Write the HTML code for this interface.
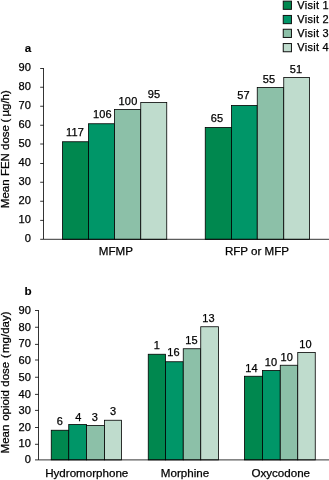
<!DOCTYPE html>
<html lang="en"><head><meta charset="utf-8"><title>Mean dose by visit</title>
<style>html,body{margin:0;padding:0;background:#fff;}body{width:329px;height:480px;overflow:hidden;}svg{display:block;}text{font-family:"Liberation Sans",Arial,Helvetica,sans-serif;font-size:11.25px;fill:#000;stroke:#000;stroke-width:0.25px;}.yl{font-size:11.5px;}.cat{font-size:11.6px;}.tk{font-size:11.1px;}.lg{font-size:11px;letter-spacing:0.27px;}.lbox{stroke:#111;stroke-width:1;}.bl{font-size:11px;letter-spacing:0.15px;}.b{font-weight:bold;font-size:11.7px;stroke-width:0.1px;}.bar{stroke:#000;stroke-width:0.8;}.ax{stroke:#000;stroke-width:0.8;fill:none;}</style></head><body>
<svg width="329" height="480" viewBox="0 0 329 480">
<rect width="329" height="480" fill="#fff"/>
<rect class="lbox" x="283.25" y="1.15" width="8.2" height="8.2" fill="#00884f"/>
<text class="lg" x="297.3" y="8.55">Visit 1</text>
<rect class="lbox" x="283.25" y="15.45" width="8.2" height="8.2" fill="#009668"/>
<text class="lg" x="297.3" y="22.65">Visit 2</text>
<rect class="lbox" x="283.25" y="29.25" width="8.2" height="8.2" fill="#8cc0a8"/>
<text class="lg" x="297.3" y="36.70">Visit 3</text>
<rect class="lbox" x="283.25" y="43.55" width="8.2" height="8.2" fill="#bfdccd"/>
<text class="lg" x="297.3" y="50.75">Visit 4</text>
<rect class="bar" x="62.50" y="141.75" width="26.00" height="97.55" fill="#00884f"/>
<rect class="bar" x="88.50" y="123.75" width="26.00" height="115.55" fill="#009668"/>
<rect class="bar" x="114.50" y="109.50" width="26.25" height="129.80" fill="#8cc0a8"/>
<rect class="bar" x="140.75" y="102.50" width="26.00" height="136.80" fill="#bfdccd"/>
<rect class="bar" x="205.25" y="127.50" width="26.25" height="111.80" fill="#00884f"/>
<rect class="bar" x="231.50" y="105.50" width="25.75" height="133.80" fill="#009668"/>
<rect class="bar" x="257.25" y="87.50" width="26.50" height="151.80" fill="#8cc0a8"/>
<rect class="bar" x="283.75" y="77.50" width="25.75" height="161.80" fill="#bfdccd"/>
<path class="ax" d="M43.50 68.10V239.30H329"/>
<path class="ax" d="M40.20 239.30H43.50"/>
<text class="tk" x="30.90" y="242.30" text-anchor="end">0</text>
<path class="ax" d="M40.20 220.40H43.50"/>
<text class="tk" x="30.90" y="223.30" text-anchor="end">10</text>
<path class="ax" d="M40.20 201.25H43.50"/>
<text class="tk" x="30.90" y="204.10" text-anchor="end">20</text>
<path class="ax" d="M40.20 182.25H43.50"/>
<text class="tk" x="30.90" y="185.15" text-anchor="end">30</text>
<path class="ax" d="M40.20 163.50H43.50"/>
<text class="tk" x="30.90" y="166.20" text-anchor="end">40</text>
<path class="ax" d="M40.20 144.00H43.50"/>
<text class="tk" x="30.90" y="147.10" text-anchor="end">50</text>
<path class="ax" d="M40.20 125.25H43.50"/>
<text class="tk" x="30.90" y="127.96" text-anchor="end">60</text>
<path class="ax" d="M40.20 106.25H43.50"/>
<text class="tk" x="30.90" y="109.00" text-anchor="end">70</text>
<path class="ax" d="M40.20 87.25H43.50"/>
<text class="tk" x="30.90" y="90.00" text-anchor="end">80</text>
<path class="ax" d="M40.20 68.50H43.50"/>
<text class="tk" x="30.90" y="70.96" text-anchor="end">90</text>
<text class="bl" x="75.05" y="135.90" text-anchor="middle">117</text>
<text class="bl" x="102.40" y="118.00" text-anchor="middle">106</text>
<text class="bl" x="128.00" y="104.50" text-anchor="middle">100</text>
<text class="bl" x="153.90" y="97.50" text-anchor="middle">95</text>
<text class="bl" x="217.10" y="121.75" text-anchor="middle">65</text>
<text class="bl" x="243.50" y="98.75" text-anchor="middle">57</text>
<text class="bl" x="269.10" y="82.50" text-anchor="middle">55</text>
<text class="bl" x="296.00" y="72.50" text-anchor="middle">51</text>
<text class="cat" x="115.90" y="254.90" text-anchor="middle">MFMP</text>
<text class="cat" x="257.00" y="254.90" text-anchor="middle">RFP or MFP</text>
<text class="b" x="24.80" y="51.75">a</text>
<text class="yl" text-anchor="middle" transform="translate(9.00 193.75) rotate(-90)">Mean</text>
<text class="yl" text-anchor="middle" transform="translate(9.00 164.60) rotate(-90)">FEN</text>
<text class="yl" text-anchor="middle" transform="translate(9.00 137.50) rotate(-90)">dose</text>
<text class="yl" text-anchor="middle" transform="translate(9.00 120.60) rotate(-90)">(</text>
<text class="yl" text-anchor="middle" transform="translate(9.00 103.40) rotate(-90)">µg/h)</text>
<rect class="bar" x="51.25" y="430.25" width="17.50" height="29.65" fill="#00884f"/>
<rect class="bar" x="68.75" y="424.50" width="17.75" height="35.40" fill="#009668"/>
<rect class="bar" x="86.50" y="425.50" width="18.00" height="34.40" fill="#8cc0a8"/>
<rect class="bar" x="104.50" y="420.25" width="17.00" height="39.65" fill="#bfdccd"/>
<rect class="bar" x="148.25" y="354.25" width="17.25" height="105.65" fill="#00884f"/>
<rect class="bar" x="165.50" y="361.75" width="17.75" height="98.15" fill="#009668"/>
<rect class="bar" x="183.25" y="348.75" width="17.50" height="111.15" fill="#8cc0a8"/>
<rect class="bar" x="200.75" y="326.75" width="17.75" height="133.15" fill="#bfdccd"/>
<rect class="bar" x="244.50" y="376.25" width="18.00" height="83.65" fill="#00884f"/>
<rect class="bar" x="262.50" y="370.50" width="17.75" height="89.40" fill="#009668"/>
<rect class="bar" x="280.25" y="365.25" width="17.50" height="94.65" fill="#8cc0a8"/>
<rect class="bar" x="297.75" y="352.50" width="17.50" height="107.40" fill="#bfdccd"/>
<path class="ax" d="M38.50 310.10V459.90H329"/>
<path class="ax" d="M35.00 459.90H38.50"/>
<text class="tk" x="30.90" y="462.95" text-anchor="end">0</text>
<path class="ax" d="M35.00 444.30H38.50"/>
<text class="tk" x="30.90" y="447.00" text-anchor="end">10</text>
<path class="ax" d="M35.00 427.50H38.50"/>
<text class="tk" x="30.90" y="430.50" text-anchor="end">20</text>
<path class="ax" d="M35.00 410.40H38.50"/>
<text class="tk" x="30.90" y="413.60" text-anchor="end">30</text>
<path class="ax" d="M35.00 394.40H38.50"/>
<text class="tk" x="30.90" y="397.50" text-anchor="end">40</text>
<path class="ax" d="M35.00 377.25H38.50"/>
<text class="tk" x="30.90" y="380.60" text-anchor="end">50</text>
<path class="ax" d="M35.00 360.00H38.50"/>
<text class="tk" x="30.90" y="363.60" text-anchor="end">60</text>
<path class="ax" d="M35.00 344.40H38.50"/>
<text class="tk" x="30.90" y="347.30" text-anchor="end">70</text>
<path class="ax" d="M35.00 327.25H38.50"/>
<text class="tk" x="30.90" y="330.50" text-anchor="end">80</text>
<path class="ax" d="M35.00 310.50H38.50"/>
<text class="tk" x="30.90" y="314.20" text-anchor="end">90</text>
<text class="bl" x="60.00" y="425.10" text-anchor="middle">6</text>
<text class="bl" x="78.50" y="420.70" text-anchor="middle">4</text>
<text class="bl" x="94.80" y="421.10" text-anchor="middle">3</text>
<text class="bl" x="113.10" y="414.50" text-anchor="middle">3</text>
<text class="bl" x="156.80" y="348.50" text-anchor="middle">1</text>
<text class="bl" x="173.60" y="355.75" text-anchor="middle">16</text>
<text class="bl" x="191.50" y="343.75" text-anchor="middle">15</text>
<text class="bl" x="208.60" y="321.75" text-anchor="middle">13</text>
<text class="bl" x="251.40" y="372.40" text-anchor="middle">14</text>
<text class="bl" x="271.00" y="366.00" text-anchor="middle">10</text>
<text class="bl" x="286.75" y="360.50" text-anchor="middle">10</text>
<text class="bl" x="305.50" y="348.10" text-anchor="middle">10</text>
<text class="cat" x="86.75" y="477.00" text-anchor="middle">Hydromorphone</text>
<text class="cat" x="185.00" y="477.00" text-anchor="middle">Morphine</text>
<text class="cat" x="280.75" y="477.00" text-anchor="middle">Oxycodone</text>
<text class="b" x="24.50" y="294.75">b</text>
<text class="yl" text-anchor="middle" transform="translate(9.00 439.05) rotate(-90)">Mean</text>
<text class="yl" text-anchor="middle" transform="translate(9.00 405.50) rotate(-90)">opioid</text>
<text class="yl" text-anchor="middle" transform="translate(9.00 374.20) rotate(-90)">dose</text>
<text class="yl" text-anchor="middle" transform="translate(9.00 356.20) rotate(-90)">(</text>
<text class="yl" text-anchor="middle" transform="translate(9.00 332.20) rotate(-90)">mg/day)</text>
</svg></body></html>
